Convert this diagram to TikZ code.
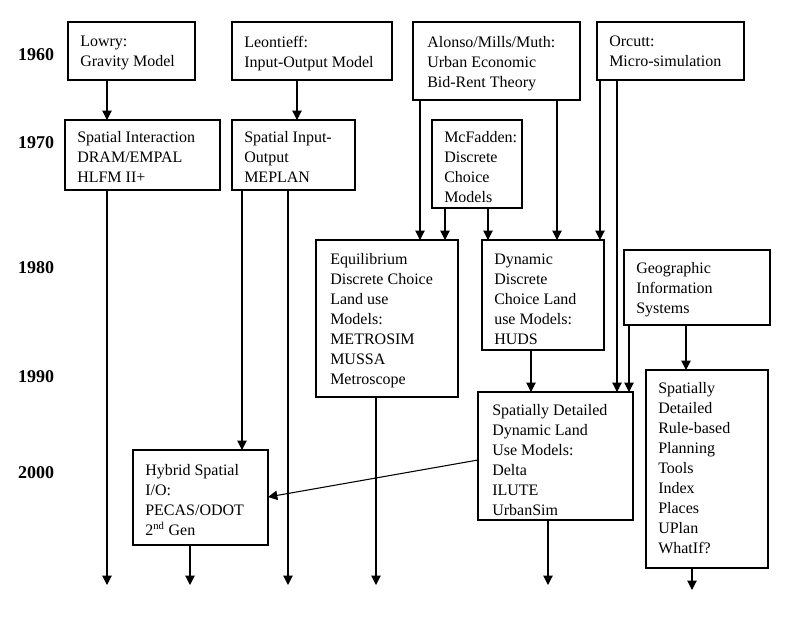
\documentclass[tikz,border=0pt]{standalone}
\usepackage{fontspec}
\setmainfont{Liberation Serif}
\usetikzlibrary{arrows.meta}
\begin{document}
\begin{tikzpicture}[x=0.75pt,y=-0.75pt,
    % box and text styles
    box/.style={draw, line width=1pt},
    txt/.style={anchor=north west, align=left, inner sep=0pt, yshift=-3pt,
        font=\fontsize{12}{15}\selectfont},
    year/.style={font=\fontsize{13.5}{15}\selectfont\bfseries},
    flow/.style={-{Triangle[length=7pt,width=7pt]}, line width=0.8pt}
]
    \useasboundingbox (0,0) rectangle (800,618);
    % Years
    \node[year] (y60) at (36,55) {1960};
    \node[year] (y70) at (36,143) {1970};
    \node[year] (y80) at (36,268) {1980};
    \node[year] (y90) at (36,377) {1990};
    \node[year] (y00) at (36,473) {2000};
    % Boxes
    \draw[box] (68,22) rectangle (195,80);
    \node[txt] (lowryT) at (80,32) {Lowry:\\Gravity Model};
    \draw[box] (232,22) rectangle (392,80);
    \node[txt] (leonT) at (244,32) {Leontieff:\\Input-Output Model};
    \draw[box] (413,22) rectangle (580,100);
    \node[txt] (alonT) at (427,32) {Alonso/Mills/Muth:\\Urban Economic\\Bid-Rent Theory};
    \draw[box] (597,22) rectangle (744,80);
    \node[txt] (orcT) at (609,32) {Orcutt:\\Micro-simulation};
    \draw[box] (65,120) rectangle (220,190);
    \node[txt] (siT) at (77,127) {Spatial Interaction\\DRAM/EMPAL\\HLFM II+};
    \draw[box] (232,120) rectangle (355,190);
    \node[txt] (sioT) at (244,127) {Spatial Input-\\Output\\MEPLAN};
    \draw[box] (432,120) rectangle (522,208);
    \node[txt] (mcfT) at (444,127) {McFadden:\\Discrete\\Choice\\Models};
    \draw[box] (316,240) rectangle (458,397);
    \node[txt] (eqT) at (330,249) {Equilibrium\\Discrete Choice\\Land use\\Models:\\METROSIM\\MUSSA\\Metroscope};
    \draw[box] (482,240) rectangle (604,350);
    \node[txt] (dynT) at (494,250) {Dynamic\\Discrete\\Choice Land\\use Models:\\HUDS};
    \draw[box] (624,250) rectangle (770,325);
    \node[txt] (gisT) at (636,258) {Geographic\\Information\\Systems};
    \draw[box] (478,392) rectangle (633,520);
    \node[txt] (sdT) at (492,400) {Spatially Detailed\\Dynamic Land\\Use Models:\\Delta\\ILUTE\\UrbanSim};
    \draw[box] (646,370) rectangle (768,568);
    \node[txt] (rbT) at (658,378) {Spatially\\Detailed\\Rule-based\\Planning\\Tools\\Index\\Places\\UPlan\\WhatIf?};
    \draw[box] (133,450) rectangle (268,545);
    \node[txt] (hyT) at (145,460) {Hybrid Spatial\\I/O:\\PECAS/ODOT\\2\textsuperscript{nd} Gen};
    % Connectors
    \draw[flow] (107,80) -- (107,120);
    \draw[flow] (297,80) -- (297,120);
    \draw[flow] (107,190) -- (107,585);
    \draw[flow] (242,190) -- (242,450);
    \draw[flow] (288,190) -- (288,585);
    \draw[flow] (420,100) -- (420,240);
    \draw[flow] (557,100) -- (557,240);
    \draw[flow] (445,208) -- (445,240);
    \draw[flow] (488,208) -- (488,240);
    \draw[flow] (600,80) -- (600,240);
    \draw[flow] (617,80) -- (617,392);
    \draw[flow] (686,325) -- (686,370);
    \draw[flow] (629,325) -- (629,392);
    \draw[flow] (376,397) -- (376,585);
    \draw[flow] (531,350) -- (531,392);
    \draw[flow] (478,460) -- (268,497);
    \draw[flow] (548,520) -- (548,585);
    \draw[flow] (190,545) -- (190,585);
    \draw[flow] (692,568) -- (692,590);
\end{tikzpicture}
\end{document}
